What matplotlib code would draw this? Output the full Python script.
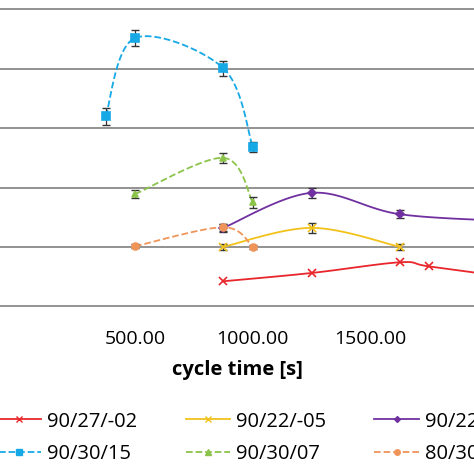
import numpy as np
import matplotlib
matplotlib.use("Agg")
import matplotlib.pyplot as plt

names = ["90/27/-02", "90/22/-05", "90/22/-10", "90/30/15", "90/30/07", "80/30/-10"]
colors = ["#e8262b", "#f2c21b", "#7030a0", "#17a9e6", "#8cc34b", "#f0955a"]
styles = ["-", "-", "-", "--", "--", "--"]
markers = ["x", "x", "D", "s", "^", "o"]

x_red = [875, 1250, 1625, 1750, 2125]
y_red = [0.42, 0.56, 0.74, 0.67, 0.47]
x_yel = [875, 1250, 1625]
y_yel = [1.0, 1.32, 1.0]
x_pur = [875, 1250, 1625, 2125]
y_pur = [1.32, 1.91, 1.55, 1.43]
x_blu = [375, 500, 875, 1000]
y_blu = [3.20, 4.52, 4.01, 2.68]
x_grn = [500, 875, 1000]
y_grn = [1.89, 2.50, 1.75]
x_org = [500, 875, 1000]
y_org = [1.01, 1.33, 1.0]
err_yel = [0.05, 0.08, 0.05]
err_pur = [0.07, 0.09, 0.07, 0.0]
err_blu = [0.14, 0.14, 0.13, 0.08]
err_grn = [0.07, 0.08, 0.09]
err_org = [0.03, 0.06, 0.03]
err_red = [0.0, 0.0, 0.0, 0.0, 0.0]

series = [(x_red, y_red, err_red), (x_yel, y_yel, err_yel), (x_pur, y_pur, err_pur),
          (x_blu, y_blu, err_blu), (x_grn, y_grn, err_grn), (x_org, y_org, err_org)]

def smooth(x, y, n=30):
    x = np.asarray(x, float); y = np.asarray(y, float)
    P = np.column_stack([x, y])
    P = np.vstack([P[0], P, P[-1]])
    out = []
    for i in range(1, len(P) - 2):
        p0, p1, p2, p3 = P[i-1], P[i], P[i+1], P[i+2]
        for t in np.linspace(0, 1, n, endpoint=False):
            t2, t3 = t*t, t*t*t
            out.append(0.5*((2*p1) + (-p0+p2)*t + (2*p0-5*p1+4*p2-p3)*t2 + (-p0+3*p1-3*p2+p3)*t3))
    out.append(P[-2])
    out = np.array(out)
    return out[:, 0], out[:, 1]

plt.rcParams['font.family'] = ['Open Sans', 'DejaVu Sans']
fig = plt.figure(figsize=(4.74, 4.74), dpi=100)
ax = fig.add_axes([0, 0.354, 1, 0.646])
ax.set_xlim(-74, 1940)
ax.set_ylim(0, 5.16)
for s in ["left", "right", "top"]:
    ax.spines[s].set_visible(False)
ax.spines["bottom"].set_color("#808080")
ax.spines["bottom"].set_linewidth(1.2)
ax.set_yticks([1, 2, 3, 4, 5])
ax.yaxis.grid(True, color="#7f7f7f", linewidth=1.2)
ax.tick_params(axis="y", length=0, labelleft=False)
ax.set_xticks([500, 1000, 1500])
ax.set_xticklabels(["500.00", "1000.00", "1500.00"], fontsize=14)
ax.tick_params(axis="x", length=0, pad=17)
ax.set_xlabel("cycle time [s]", fontsize=14.5, fontweight="bold", labelpad=9)

handles = []
for (x, y, e), c, ls, m, nm in zip(series, colors, styles, markers, names):
    sx, sy = smooth(x, y)
    ax.plot(sx, sy, color=c, ls=ls, lw=1.3, zorder=2)
    if any(v > 0 for v in e):
        ax.errorbar(x, y, yerr=e, fmt="none", ecolor="#333333", elinewidth=0.9, capsize=3, zorder=3)
    ms = {"s": 6, "o": 5, "D": 4, "^": 5, "x": 6}[m]
    ax.plot(x, y, ls="none", marker=m, color=c, ms=ms, mew=1.2, zorder=4)
    h, = ax.plot([], [], color=c, ls=ls, marker=m, ms=ms - 1, lw=1.3, label=nm)
    handles.append(h)

order = [0, 3, 1, 4, 2, 5]
fig.legend(handles=[handles[i] for i in order], loc="upper left", bbox_to_anchor=(-0.045, 0.17), ncol=3,
           frameon=False, fontsize=14.5, columnspacing=2.4, handlelength=2.2,
           handletextpad=0.3, labelspacing=0.6)
fig.savefig("out.png", dpi=100)
